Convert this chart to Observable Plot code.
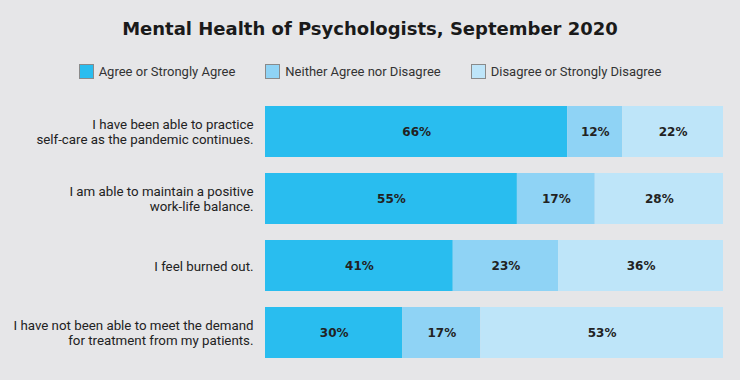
<!DOCTYPE html>
<html>
<head>
<meta charset="utf-8">
<script src="https://cdn.jsdelivr.net/npm/d3@7"></script>
<script src="https://cdn.jsdelivr.net/npm/@observablehq/plot@0.6"></script>
<style>
  html, body { margin: 0; padding: 0; background: #e6e6e8; }
  #wrap { position: relative; width: 740px; height: 380px; background: #e6e6e8; overflow: hidden; }
  #title { position: absolute; left: 0; width: 740px; top: 17px; text-align: center;
           font-family: "DejaVu Sans", sans-serif; font-weight: bold; font-size: 18px; line-height: 24px; color: #1a1a1a; }
  #legend { position: absolute; left: 0; width: 740px; top: 62px; height: 18px; display: flex; justify-content: center; align-items: center;
            font-family: Roboto, sans-serif; font-size: 13px; color: #333; }
  .item { display: flex; align-items: center; margin: 0 15px; }
  .sw { width: 15px; height: 15px; border: 1px solid #8a8a8a; box-sizing: border-box; margin-right: 5px; }
  #chart { position: absolute; left: 0; top: 88px; }
</style>
</head>
<body>
<div id="wrap">
  <div id="title">Mental Health of Psychologists, September 2020</div>
  <div id="legend"></div>
  <div id="chart"></div>
</div>
<script>
const questions = [
  "I have been able to practice\nself-care as the pandemic continues.",
  "I am able to maintain a positive\nwork-life balance.",
  "I feel burned out.",
  "I have not been able to meet the demand\nfor treatment from my patients."
];
const responses = ["Agree or Strongly Agree", "Neither Agree nor Disagree", "Disagree or Strongly Disagree"];
const agree = [66, 55, 41, 30];
const neither = [12, 17, 23, 17];
const disagree = [22, 28, 36, 53];
const colors = ["#29bdef", "#8fd3f5", "#bee5f9"];

const series = [agree, neither, disagree];
const data = [];
questions.forEach((q, i) => {
  responses.forEach((r, j) => data.push({question: q, response: r, value: series[j][i]}));
});

// legend
const legend = document.getElementById("legend");
responses.forEach((r, j) => {
  const item = document.createElement("div");
  item.className = "item";
  const sw = document.createElement("div");
  sw.className = "sw";
  sw.style.background = colors[j];
  const t = document.createElement("span");
  t.textContent = r;
  item.appendChild(sw); item.appendChild(t);
  legend.appendChild(item);
});

const chart = Plot.plot({
  width: 740,
  height: 292,
  marginLeft: 265,
  marginRight: 17,
  marginTop: 16,
  marginBottom: 20,
  style: {background: "transparent", fontFamily: "Roboto, sans-serif"},
  x: {domain: [0, 100], axis: null},
  y: {domain: questions, paddingInner: 0.235, paddingOuter: 0, label: null},
  color: {domain: responses, range: colors},
  marks: [
    Plot.barX(data, Plot.stackX({x: "value", y: "question", fill: "response", order: null})),
    Plot.textX(data, Plot.stackX({x: "value", y: "question", z: "response", order: null,
      text: d => d.value + "%", fill: "#222", fontWeight: "bold", fontSize: 12, fontFamily: "DejaVu Sans, sans-serif"})),
    Plot.axisY({tickSize: 0, tickPadding: 12, fontSize: 13.3, fill: "#222", lineHeight: 1.07, label: null})
  ]
});
document.getElementById("chart").appendChild(chart);
</script>
</body>
</html>
